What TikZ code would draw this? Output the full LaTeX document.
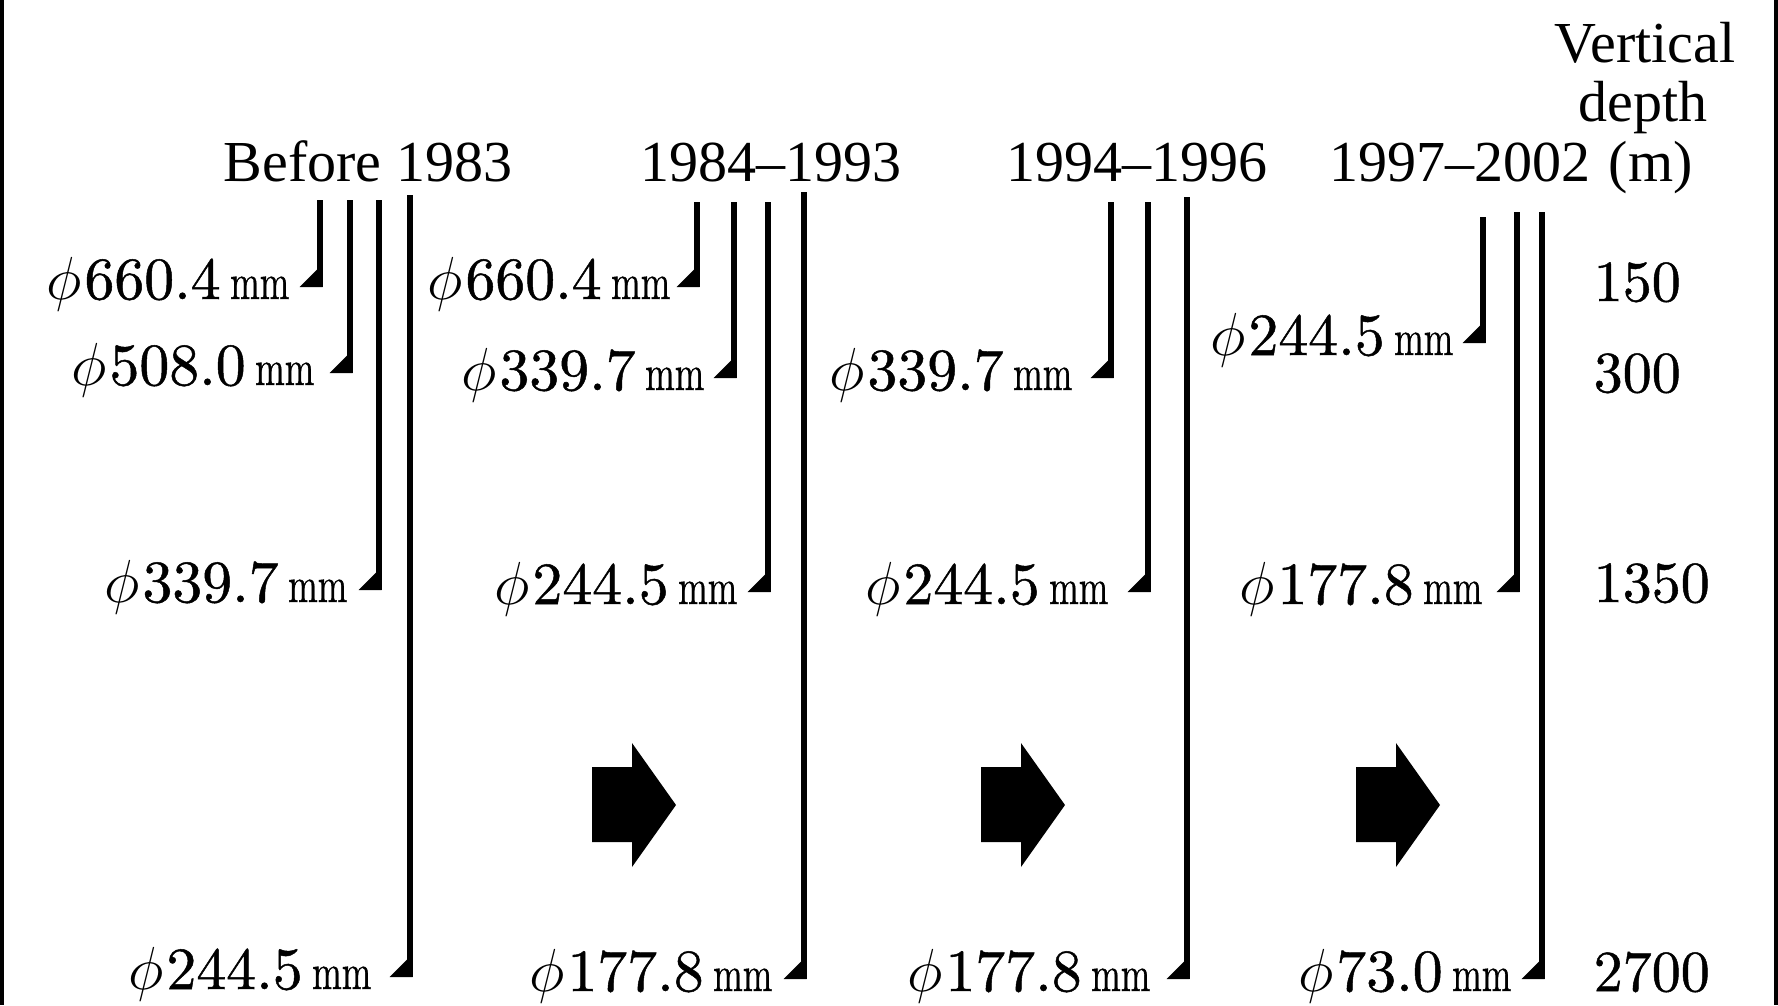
\documentclass[tikz,border=0pt]{standalone}
\usepackage{fontspec}
\newfontfamily\hdfont{Liberation Serif}
\newfontfamily\lblfont{lmroman10-regular.otf}[FakeBold=0.8]
\tikzset{
  casingline/.style={line width=1.5pt, line cap=butt},
  shoe/.style={fill=black},
  sizelbl/.style={anchor=base east, inner sep=0pt, font=\lblfont\fontsize{17}{19}\selectfont},
  hdr/.style={anchor=base, inner sep=0pt, font=\hdfont\fontsize{16.5}{18}\selectfont},
  dep/.style={anchor=base west, inner sep=0pt, font=\lblfont\fontsize{16.5}{19}\selectfont},
  bigarrow/.style={fill=black},
  frameedge/.style={fill=black}
}
\newcommand\mmunit{\hspace{0.16em}\scalebox{0.7}[1]{\fontsize{14.4}{14.4}\selectfont mm}}
\newcommand\dia[1]{$\phi$\kern0.04em#1\mmunit}
% name, x, top, end, gap, label
\newcommand\casing[6]{%
  \coordinate (#1t) at (#2,#3);
  \coordinate (#1b) at (#2,#4);
  \draw[casingline] (#1t) -- (#1b);
  \fill[shoe] (#1b) ++(2.5,0) -- ++(-23,0) -- ++(23,-23) -- cycle;
  \node[sizelbl] (#1l) at (#2-#5,#4+12) {\dia{#6}};
}
\newcommand\blockarrow[2]{% name, left x
  \fill[bigarrow] (#2,767) -- (#2+40,767) -- (#2+40,743) -- (#2+84,805)
     -- (#2+40,867) -- (#2+40,842) -- (#2,842) -- cycle;
  \coordinate (#1) at (#2+42,805);
}
\begin{document}
\begin{tikzpicture}[x=0.01cm,y=-0.01cm]
\useasboundingbox (0,0) rectangle (1778,1005);
\fill[white] (0,0) rectangle (1778,1005);
\fill[frameedge] (0,0) rectangle (4,1005);
\fill[frameedge] (1774,0) rectangle (1778,1005);

% headers
\node[hdr] (h1) at (368,181) {Before 1983};
\node[hdr] (h2) at (771,181) {1984–1993};
\node[hdr] (h3) at (1137,181) {1994–1996};
\node[hdr] (h4) at (1460,181) {1997–2002};
\node[hdr, anchor=base west] (hm) at (1608,181) {(m)};
\node[hdr] (hv) at (1645,62) {Vertical};
\node[hdr] (hd) at (1643,121) {depth};

% column 1
\casing{c1a}{320}{200}{287}{30}{660.4}
\casing{c1b}{350}{200}{373}{35}{508.0}
\casing{c1c}{379}{200}{590}{31}{339.7}
\casing{c1d}{410}{195}{977}{38}{244.5}
% column 2
\casing{c2a}{697}{202}{287}{26}{660.4}
\casing{c2b}{734}{202}{378}{29}{339.7}
\casing{c2c}{768}{202}{592}{30}{244.5}
\casing{c2d}{804}{192}{979}{31}{177.8}
% column 3
\casing{c3a}{1111}{202}{378}{38}{339.7}
\casing{c3b}{1148}{202}{592}{39}{244.5}
\casing{c3c}{1187}{197}{979}{36}{177.8}
% column 4
\casing{c4a}{1483}{217}{343}{29}{244.5}
\casing{c4b}{1517}{212}{592}{34}{177.8}
\casing{c4c}{1542}{212}{979}{30}{73.0}

% depths
\node[dep] (d1) at (1593,301) {150};
\node[dep] (d2) at (1593,392) {300};
\node[dep] (d3) at (1593,602) {1350};
\node[dep] (d4) at (1593,991) {2700};

% arrows
\blockarrow{a1}{592}
\blockarrow{a2}{981}
\blockarrow{a3}{1356}
\end{tikzpicture}
\end{document}
